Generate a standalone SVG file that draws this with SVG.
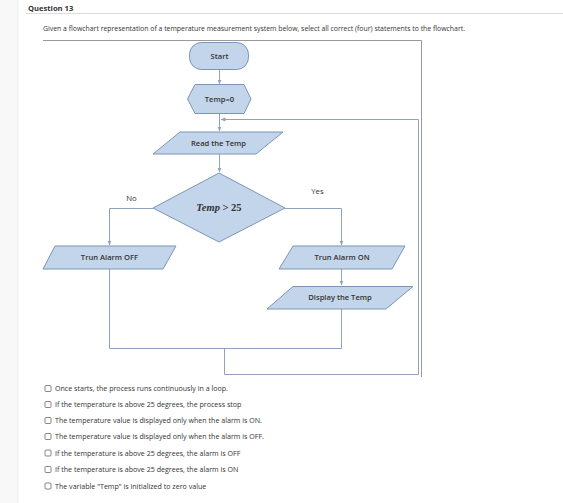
<svg xmlns="http://www.w3.org/2000/svg" width="563" height="503" viewBox="0 0 563 503">
<style>
.t{font-family:"Open Sans","Liberation Sans",sans-serif;fill:#333}
.lbl{font-family:"Open Sans","Liberation Sans",sans-serif;font-size:7.6px;font-weight:600;fill:#333;text-anchor:middle}
.shape{fill:#c3d5ea;stroke:#7b95b6;stroke-width:1}
.conn{fill:none;stroke:#8fa3bd;stroke-width:1}
.frame{fill:none;stroke:#9a9a9a;stroke-width:1}
.opt{font-family:"Open Sans","Liberation Sans",sans-serif;font-size:7.1px;fill:#333}
.cb{fill:#fff;stroke:#666;stroke-width:0.8}
</style>
<defs>
<marker id="ah" viewBox="0 0 10 10" refX="9" refY="5" markerWidth="5" markerHeight="5" orient="auto">
<path d="M0,1 L10,5 L0,9 z" fill="#8fa3bd"/>
</marker>
</defs>
<rect x="0" y="0" width="563" height="503" fill="#fff"/>
<rect x="0" y="0" width="18" height="503" fill="#f8f8f8"/>
<line x1="18" y1="0" x2="18" y2="503" stroke="#ececec" stroke-width="1"/>
<text class="t" x="28" y="11" font-size="7.6" font-weight="700" fill="#222">Question 13</text>
<line x1="26" y1="13.5" x2="563" y2="13.5" stroke="#dcdcdc" stroke-width="1"/>
<text class="t" x="43" y="30.5" font-size="6.9">Given a flowchart representation of a temperature measurement system below, select all correct (four) statements to the flowchart.</text>
<path class="frame" d="M43,40.5 H421.5 V377"/>
<g id="connectors">
<line class="conn" x1="219.5" y1="69" x2="219.5" y2="84" marker-end="url(#ah)"/>
<line class="conn" x1="219.5" y1="113" x2="219.5" y2="131" marker-end="url(#ah)"/>
<line class="conn" x1="219.5" y1="154" x2="219.5" y2="172" marker-end="url(#ah)"/>
<path class="conn" d="M153,208.5 H109.5 V245" marker-end="url(#ah)"/>
<path class="conn" d="M285,208.5 H341.5 V245" marker-end="url(#ah)"/>
<line class="conn" x1="341.5" y1="269" x2="341.5" y2="285" marker-end="url(#ah)"/>
<path class="conn" d="M341.5,309 V348.5 H109.5 V269"/>
<path class="conn" d="M224.5,348.5 V374.5 H418.5 V119.5 H221" marker-end="url(#ah)"/>
</g>
<g id="start">
<rect class="shape" x="189.5" y="42.5" width="59" height="27" rx="12" ry="12"/>
<text class="lbl" x="219.5" y="59">Start</text>
</g>
<g id="init">
<polygon class="shape" points="195,84.5 244,84.5 251,99 244,113.5 195,113.5 187.5,99"/>
<text class="lbl" x="219.5" y="102">Temp=0</text>
</g>
<g id="read">
<polygon class="shape" points="180,132 283,132 256,154 153,154"/>
<text class="lbl" x="218.5" y="145.5">Read the Temp</text>
</g>
<g id="decision">
<polygon class="shape" points="219,173 285,208 219,242 153,208"/>
<text x="219" y="211" text-anchor="middle" font-family="'Liberation Serif',serif" font-size="10.5" font-weight="700" fill="#333"><tspan font-style="italic">Temp</tspan> &gt; 25</text>
</g>
<g id="labels">
<text class="t" x="131.5" y="201" font-size="7.8" text-anchor="middle">No</text>
<text class="t" x="317.5" y="194" font-size="7.8" text-anchor="middle">Yes</text>
</g>
<g id="alarmoff">
<polygon class="shape" points="55,246 176,246 163,269 43,269"/>
<text class="lbl" x="109.5" y="260">Trun Alarm OFF</text>
</g>
<g id="alarmon">
<polygon class="shape" points="293,246 405,246 392,269 279,269"/>
<text class="lbl" x="342" y="260">Trun Alarm ON</text>
</g>
<g id="display">
<polygon class="shape" points="293,286.5 413,286.5 386,309 267,309"/>
<text class="lbl" x="340" y="300">Display the Temp</text>
</g>
<g id="options">
<rect class="cb" x="45" y="385.5" width="6" height="6" rx="1"/>
<text class="opt" x="55" y="391">Once starts, the process runs continuously  in a loop.</text>
<rect class="cb" x="45" y="401.5" width="6" height="6" rx="1"/>
<text class="opt" x="55" y="407">If the temperature is above 25 degrees, the process stop</text>
<rect class="cb" x="45" y="417.5" width="6" height="6" rx="1"/>
<text class="opt" x="55" y="423">The temperature value is displayed only when the alarm is ON.</text>
<rect class="cb" x="45" y="433.5" width="6" height="6" rx="1"/>
<text class="opt" x="55" y="439">The temperature value is displayed only when the alarm is OFF.</text>
<rect class="cb" x="45" y="450" width="6" height="6" rx="1"/>
<text class="opt" x="55" y="455.5">If the temperature is above 25 degrees, the alarm is OFF</text>
<rect class="cb" x="45" y="466.5" width="6" height="6" rx="1"/>
<text class="opt" x="55" y="472">If the temperature is above 25 degrees, the alarm is ON</text>
<rect class="cb" x="45" y="483" width="6" height="6" rx="1"/>
<text class="opt" x="55" y="488.5">The variable "Temp" is initialized to zero value</text>
</g>
</svg>
